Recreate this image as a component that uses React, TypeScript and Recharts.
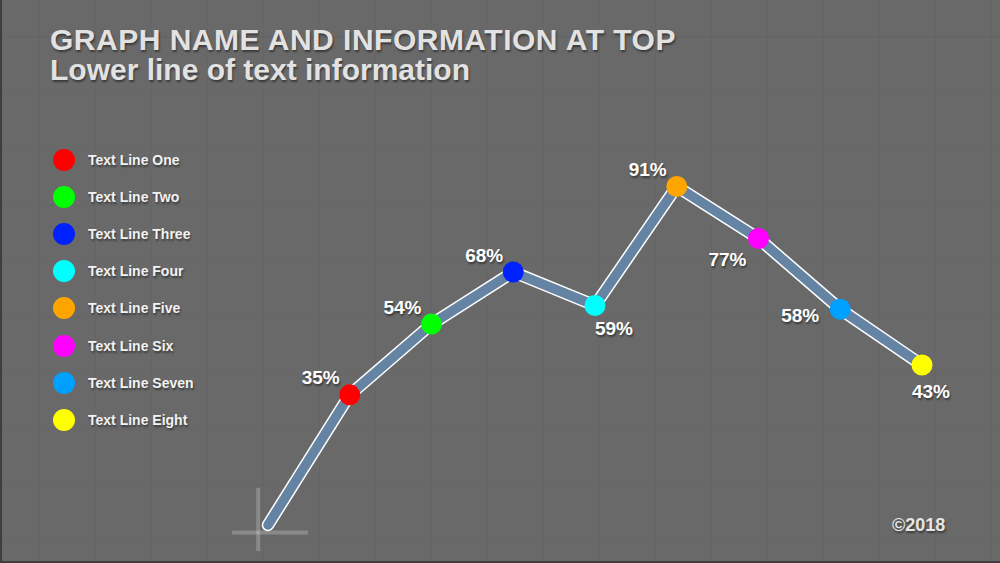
import React from 'react';
import { LineChart, Line, XAxis, YAxis, ReferenceLine } from 'recharts';

// data points (index 0 is the starting origin of the line)
const STEPS = [0, 1, 2, 3, 4, 5, 6, 7, 8];
const VALUES = [0, 35, 54, 68, 59, 91, 77, 58, 43];
const DOT_COLORS = ['', '#ff0000', '#00ff00', '#0022ff', '#00ffff', '#ffa500', '#ff00ff', '#00a0ff', '#ffff00'];
const LEGEND_NAMES = [
    'Text Line One',
    'Text Line Two',
    'Text Line Three',
    'Text Line Four',
    'Text Line Five',
    'Text Line Six',
    'Text Line Seven',
    'Text Line Eight',
];
// where each value label sits around its dot
const LABEL_PLACE = ['', 'upLeft', 'upLeft', 'upLeft', 'downRight', 'upLeft', 'downLeft', 'left', 'down'];

const LABEL_OFFSET: Record<string, [number, number]> = {
    upLeft: [-29, -17],
    downRight: [19, 23],
    downLeft: [-31, 21],
    left: [-40, 6],
    down: [9, 26],
};

const FONT = '"Liberation Sans", Arial, Helvetica, sans-serif';
const SHADOW = '1px 2px 2px rgba(0,0,0,0.45)';

const chartData = STEPS.map((s, i) => ({ step: s, value: VALUES[i] }));

const ValueDot = (props: any) => {
    const { cx, cy, index } = props;
    if (index === 0) return <g key={`d-${index}`} />;
    return <circle key={`d-${index}`} cx={cx} cy={cy} r={10.5} fill={DOT_COLORS[index]} />;
};

const ValueLabel = (props: any) => {
    const { x, y, index, value } = props;
    if (index === 0) return null;
    const [dx, dy] = LABEL_OFFSET[LABEL_PLACE[index]];
    return (
        <text
            x={x + dx}
            y={y + dy}
            textAnchor="middle"
            dominantBaseline="central"
            fill="#ffffff"
            fontSize={19}
            fontWeight="bold"
            fontFamily={FONT}
            style={{ textShadow: SHADOW }}
        >
            {`${value}%`}
        </text>
    );
};

const SideLegend = () => (
    <div style={{ position: 'absolute', left: 51, top: 141, fontFamily: FONT }}>
        {LEGEND_NAMES.map((name, i) => (
            <div key={name} style={{ display: 'flex', alignItems: 'center', height: 37.2 }}>
                <span
                    style={{
                        width: 22,
                        height: 22,
                        borderRadius: '50%',
                        background: DOT_COLORS[i + 1],
                        display: 'inline-block',
                        marginRight: 13,
                    }}
                />
                <span style={{ color: '#f2f2f2', fontSize: 14, fontWeight: 'bold', textShadow: SHADOW }}>{name}</span>
            </div>
        ))}
    </div>
);

export default function App() {
    return (
        <div
            style={{
                position: 'fixed',
                top: 0,
                left: 0,
                width: 1000,
                height: 563,
                boxSizing: 'border-box',
                borderLeft: '2px solid #3e3e3e',
                borderBottom: '2px solid #3e3e3e',
                backgroundColor: '#696969',
                backgroundImage:
                    'repeating-linear-gradient(90deg, rgba(0,0,0,0.03) 0 1px, transparent 1px 56px), repeating-linear-gradient(0deg, rgba(0,0,0,0.03) 0 1px, transparent 1px 56px)',
                backgroundPosition: '37px 37px',
                overflow: 'hidden',
                fontFamily: FONT,
            }}
        >
            <div
                style={{
                    position: 'absolute',
                    left: 48,
                    top: 25,
                    color: '#e2e2e2',
                    fontWeight: 'bold',
                    fontSize: 30,
                    lineHeight: '30px',
                    textShadow: SHADOW,
                    whiteSpace: 'nowrap',
                }}
            >
                <div style={{ letterSpacing: 0.5 }}>GRAPH NAME AND INFORMATION AT TOP</div>
                <div>Lower line of text information</div>
            </div>
            <SideLegend />
            <div
                style={{
                    position: 'absolute',
                    left: 890,
                    top: 515,
                    color: '#e6e6e6',
                    fontWeight: 'bold',
                    fontSize: 18,
                    textShadow: SHADOW,
                }}
            >
                ©2018
            </div>
            <LineChart
                width={1000}
                height={563}
                data={chartData}
                margin={{ top: 153, right: 78, left: 268, bottom: 38 }}
                style={{ position: 'absolute', left: -2, top: 0 }}
            >
                <XAxis dataKey="step" type="number" domain={[0, 8]} hide />
                <YAxis type="number" domain={[0, 100]} hide />
                <ReferenceLine
                    segment={[{ x: -0.44, y: -2 }, { x: 0.49, y: -2 }]}
                    stroke="rgba(255,255,255,0.22)"
                    strokeWidth={4}
                    ifOverflow="visible"
                />
                <ReferenceLine
                    segment={[{ x: -0.12, y: 10 }, { x: -0.12, y: -7 }]}
                    stroke="rgba(255,255,255,0.22)"
                    strokeWidth={4}
                    ifOverflow="visible"
                />
                <Line
                    dataKey="value"
                    type="linear"
                    stroke="#ffffff"
                    strokeWidth={12.5}
                    strokeLinecap="round"
                    strokeLinejoin="round"
                    dot={false}
                    activeDot={false}
                    isAnimationActive={false}
                />
                <Line
                    dataKey="value"
                    type="linear"
                    stroke="#6584a4"
                    strokeWidth={9.5}
                    strokeLinecap="round"
                    strokeLinejoin="round"
                    dot={<ValueDot />}
                    activeDot={false}
                    label={<ValueLabel />}
                    isAnimationActive={false}
                />
            </LineChart>
        </div>
    );
}
